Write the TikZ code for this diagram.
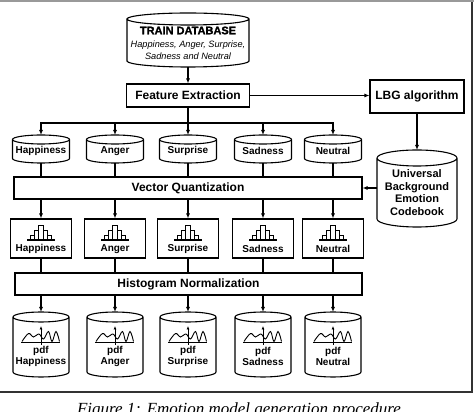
\documentclass[tikz,border=0pt]{standalone}
\usepackage{fontspec}
\setmainfont{Liberation Serif}
\setsansfont{Liberation Sans}
\newfontfamily\heavyfont[FakeBold=1.5]{Liberation Sans Bold}
\usetikzlibrary{calc,arrows.meta}

\tikzset{
  box/.style={draw, line width=1.1pt, fill=white, inner sep=0,
              font=\sffamily\bfseries\fontsize{12}{14}\selectfont},
  dbase/.style={rectangle, inner sep=0, outer sep=0},
  lbl/.style={inner sep=0, align=center,
              font=\sffamily\bfseries\fontsize{10}{11.5}\selectfont},
  link/.style={line width=1.1pt},
  flow/.style={link, -{Latex[length=5pt,width=4pt]}},
  icon/.style={line width=0.9pt},
}

% outline of a database drum round node #1, end ellipses of half height #2
\newcommand\drawdb[2]{%
  \draw[link] let \p1=(#1.north west), \p2=(#1.south east),
                  \n1={(\x2-\x1)/2} in
    (\x1,\y1-#2pt) -- (\x1,\y2+#2pt)
    arc[start angle=180, end angle=360, x radius=\n1, y radius=#2pt]
    -- (\x2,\y1-#2pt)
    arc[start angle=0, end angle=360, x radius=\n1, y radius=#2pt];
}

\begin{document}
\begin{tikzpicture}[x=1pt, y=1pt]
\useasboundingbox (0,0) rectangle (474,412);

% dimensions
\def\yemo{263}    % first row of drums
\def\yhist{173.5} % histogram boxes
\def\ypdf{67.5}   % pdf drums

% --- frame and caption ---
\draw[black!80, line width=2pt] (-3,20.3) -- (472,20.3) -- (472,414);
\draw[black!40, line width=2.5pt] (-3,411) -- (477,411);
\node[anchor=base, inner sep=0, font=\itshape\fontsize{17}{20}\selectfont]
  (caption) at (239,-2.2) {Figure 1: Emotion model generation procedure};

% --- training data and features ---
\node[dbase, minimum width=122, minimum height=54] (train) at (188,372) {};
\drawdb{train}{6}
\node[lbl, font=\sffamily\itshape\fontsize{9.2}{12}\selectfont]
  (tlbl) at (188,369) {{\upshape\heavyfont\fontsize{11}{12}\selectfont
   TRAIN DATABASE}\\[1pt] Happiness, Anger, Surprise,\\Sadness and Neutral};
\node[box, minimum width=123, minimum height=23] (fe) at (188,316.5)
  {Feature Extraction};
\node[box, minimum width=94, minimum height=33] (lbg) at (417,315.5)
  {LBG algorithm};
\node[dbase, minimum width=80, minimum height=77] (ubg) at (417,223.5) {};
\drawdb{ubg}{8}
\node[lbl, font=\sffamily\bfseries\fontsize{11}{12.7}\selectfont]
  (ulbl) at (417,219.5) {Universal\\Background\\Emotion\\Codebook};

\draw[flow] (train.south) -- (fe.north);
\draw[flow] (fe.east) -- (lbg.west |- fe.east);
\draw[flow] (lbg.south) -- (ubg.north);
\coordinate (split) at (188,289);
\draw[link] (fe.south) -- (split);

% --- processing stages ---
\node[box, minimum width=348, minimum height=22] (vq) at (188,224)
  {Vector Quantization};
\node[box, minimum width=347, minimum height=22] (hn) at (188.5,128)
  {Histogram Normalization};
\draw[flow] (ubg.west |- vq.east) -- (vq.east);

% --- one column per emotion ---
\foreach \x/\name [count=\i] in {41/Happiness, 115/Anger, 188/Surprise,
                                 263/Sadness, 333/Neutral} {
  \node[dbase, minimum width=57, minimum height=28] (emo\i) at (\x,\yemo) {};
  \drawdb{emo\i}{4.5}
  \node[lbl] (elbl\i) at (\x,\yemo-2) {\name};
  \node[box, minimum width=61, minimum height=39] (hist\i) at (\x,\yhist) {};
  \node[lbl] (hlbl\i) at (\x,\yhist-10.5) {\name};
  \node[dbase, minimum width=56, minimum height=65] (pdf\i) at (\x,\ypdf) {};
  \drawdb{pdf\i}{5}
  \node[lbl] (plbl\i) at (\x,\ypdf-12) {pdf\\\name};

  \draw[flow] (split) -| (emo\i.north);
  \draw[link] (emo\i.south) -- (emo\i.south |- vq.north);
  \draw[flow] (vq.south -| hist\i.north) -- (hist\i.north);
  \draw[link] (hist\i.south) -- (hist\i.south |- hn.north);
  \draw[flow] (hn.south -| pdf\i.north) -- (pdf\i.north);

  % histogram icon
  \begin{scope}[shift={(hist\i.center)}]
    \foreach \bx/\bh in {-10.5/4.5, -6.3/9.5, -2.1/14.5, 2.1/9.5, 6.3/4.5}
      \draw[icon] (\bx,-1.5) rectangle ++(4.2,\bh);
    \draw[line width=1.3pt] (-14,-1.5) -- (14,-1.5);
  \end{scope}

  % pdf icon
  \begin{scope}[shift={(pdf\i.center)}]
    \draw[line width=1.3pt] (-20,2) -- (19,2);
    \draw[icon] (0,2) -- (0,-1);
    \draw[icon] plot[smooth, tension=0.6] coordinates
      {(-19,3) (-12.5,11) (-7.5,7.5) (-2,10.5) (2.5,5.5) (7.5,13)
       (11,3) (15,13) (18.5,3)};
    \draw[icon, -{Latex[length=3.5pt,width=3pt]}] (0,2) -- (0,18.5);
  \end{scope}
}

\end{tikzpicture}
\end{document}
